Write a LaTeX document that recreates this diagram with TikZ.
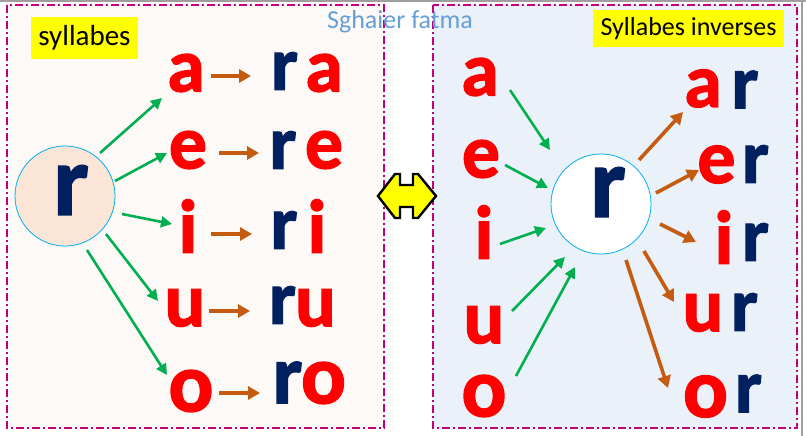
\documentclass[tikz,border=0pt]{standalone}
\usepackage{fontspec}
\setmainfont{Carlito}
\newfontfamily\heavy[FakeBold=1.6]{Carlito Bold}
\usetikzlibrary{arrows.meta,calc}
\definecolor{vred}{RGB}{255,0,0}
\definecolor{navy}{RGB}{0,32,96}
\definecolor{vgreen}{RGB}{0,176,80}
\definecolor{vorange}{RGB}{197,90,17}
\definecolor{peach}{RGB}{251,229,214}
\definecolor{ringblue}{RGB}{0,176,240}
\definecolor{panelL}{RGB}{253,249,246}
\definecolor{panelR}{RGB}{234,241,249}
\definecolor{framemag}{RGB}{192,0,128}
\definecolor{namecol}{RGB}{100,160,215}
\definecolor{yel}{RGB}{255,255,0}
\tikzset{
  panel/.style={draw=framemag, line width=1.6pt, dash pattern=on 8pt off 3pt on 2pt off 3pt},
  vow/.style={text=vred, inner sep=0pt, font=\heavy\fontsize{76}{76}\selectfont},
  bigvow/.style={text=vred, inner sep=0pt, font=\heavy\fontsize{84}{84}\selectfont},
  cons/.style={text=navy, inner sep=0pt, font=\heavy\fontsize{76}{76}\selectfont},
  bigr/.style={text=navy, inner sep=0pt, font=\heavy\fontsize{100}{100}\selectfont},
  ring/.style={circle, minimum size=100pt, inner sep=0pt, draw=ringblue, line width=0.8pt},
  garr/.style={draw=vgreen, line width=2.6pt, -{Triangle[length=11pt,width=11pt]}},
  oarr/.style={draw=vorange, line width=3.6pt, -{Triangle[length=12pt,width=13pt]}},
  tag/.style={fill=yel, text=black, inner sep=0pt},
}
\begin{document}
\begin{tikzpicture}[x=1pt,y=-1pt]
\useasboundingbox (0,0) rectangle (806,436);
% frame lines of the screenshot
\draw[gray!75, line width=1.2pt] (0,1) -- (806,1);
\draw[gray!75, line width=1.2pt] (802,0) -- (802,436);
% panels
\fill[panelL] (7,5) rectangle (384,428);
\draw[panel] (7,5) rectangle (384,428);
\fill[panelR] (433,5) rectangle (797,428);
\draw[panel] (433,5) rectangle (797,428);
% tags
\node[tag, minimum width=107pt, minimum height=42pt, font=\fontsize{29}{29}\selectfont] (t1) at (84.5,38) {syllabes};
\node[tag, minimum width=191pt, minimum height=37pt, font=\fontsize{26}{26}\selectfont] (t2) at (688.5,28.5) {Syllabes inverses};
\node[text=namecol, inner sep=0pt, font=\fontsize{26}{26}\selectfont, anchor=base] (nm) at (400,29) {Sghaier fatma};
% ---------------- left panel ----------------
\node[ring, fill=peach] (cL) at (65,196) {};
\node[bigr] (rL) at (71,190) {r};
\node[vow] (a1) at (186,73) {a};
\node[vow] (e1) at (188,150) {e};
\node[vow] (i1) at (188,226) {i};
\node[vow] (u1) at (185,308) {u};
\node[bigvow] (o1) at (191,391) {o};
\node[cons] (ra1) at (284.5,71) {r};
\node[vow]  (ra2) at (324,73) {a};
\node[cons] (re1) at (283,150) {r};
\node[vow]  (re2) at (324,150) {e};
\node[cons] (ri1) at (284,230) {r};
\node[vow]  (ri2) at (317,226) {i};
\node[cons] (ru1) at (282.5,305) {r};
\node[vow]  (ru2) at (315.5,308) {u};
\node[bigvow, text=navy] (ro1) at (287.5,382.5) {r};
\node[bigvow] (ro2) at (323.5,383) {o};
% green arrows from the circle
\draw[garr] ($(cL)+(35,-43)$) -- ($(a1)+(-24,25)$);
\draw[garr] ($(cL)+(50,-15)$) -- ($(e1)+(-21,3)$);
\draw[garr] ($(cL)+(57,18)$) -- ($(i1)+(-16,-2)$);
\draw[garr] ($(cL)+(41,38)$) -- ($(u1)+(-27,-7)$);
\draw[garr] ($(cL)+(22,54)$) -- ($(o1)+(-24,-16)$);
% orange arrows
\draw[oarr] ($(a1)+(25,3)$) -- ($(a1)+(65,3)$);
\draw[oarr] ($(e1)+(31,3)$) -- ($(e1)+(71,3)$);
\draw[oarr] ($(i1)+(23,8)$) -- ($(i1)+(64,8)$);
\draw[oarr] ($(u1)+(24,3)$) -- ($(u1)+(65,3)$);
\draw[oarr] ($(o1)+(28,2)$) -- ($(o1)+(69,2)$);
% ---------------- middle double arrow ----------------
\coordinate (mid) at (407,196);
\draw[fill=yel, draw=black, line width=2.4pt, line join=miter]
  ($(mid)+(-29,0)$) -- ++(17,-22) -- ++(5,0) -- ++(0,11) -- ++(13,0) -- ++(0,-11)
  -- ++(5,0) -- ++(18,22) -- ++(-18,22) -- ++(-5,0) -- ++(0,-11) -- ++(-13,0)
  -- ++(0,11) -- ++(-5,0) -- cycle;
% ---------------- right panel ----------------
\node[ring, fill=white] (cR) at (601,204) {};
\node[bigr] (rR) at (608,192) {r};
\node[vow] (a2) at (480,77) {a};
\node[vow] (e2) at (481,159) {e};
\node[vow] (i2) at (484,232) {i};
\node[vow] (u2) at (484,325) {u};
\node[bigvow] (o2) at (484,396) {o};
\node[vow]  (ar1) at (703,88.5) {a};
\node[cons] (ar2) at (745,89.5) {r};
\node[vow]  (er1) at (716.5,164.5) {e};
\node[cons] (er2) at (755.5,164) {r};
\node[vow]  (ir1) at (724,237) {i};
\node[cons] (ir2) at (755.5,242) {r};
\node[vow]  (ur1) at (703,313) {u};
\node[cons] (ur2) at (744.5,312) {r};
\node[bigvow] (or1) at (705.5,396.5) {o};
\node[cons] (or2) at (748.5,393.5) {r};
% green arrows into the circle
\draw[garr] ($(a2)+(30,13)$) -- ($(cR)+(-51,-54)$);
\draw[garr] ($(e2)+(24,6)$) -- ($(cR)+(-53,-16)$);
\draw[garr] ($(i2)+(16,12)$) -- ($(cR)+(-55,24)$);
\draw[garr] ($(u2)+(28,-14)$) -- ($(cR)+(-36,53)$);
\draw[garr] ($(o2)+(32,-20)$) -- ($(cR)+(-26,63)$);
% orange arrows out of the circle
\draw[oarr] ($(cR)+(38,-44)$) -- ($(ar1)+(-20,23.5)$);
\draw[oarr] ($(cR)+(55,-11)$) -- ($(er1)+(-17.5,5.5)$);
\draw[oarr] ($(cR)+(59,20)$) -- ($(ir1)+(-28,5)$);
\draw[oarr] ($(cR)+(43,47)$) -- ($(ur1)+(-29,-11)$);
\draw[oarr] ($(cR)+(25,56)$) -- ($(or1)+(-37.5,-8.5)$);
\end{tikzpicture}
\end{document}
